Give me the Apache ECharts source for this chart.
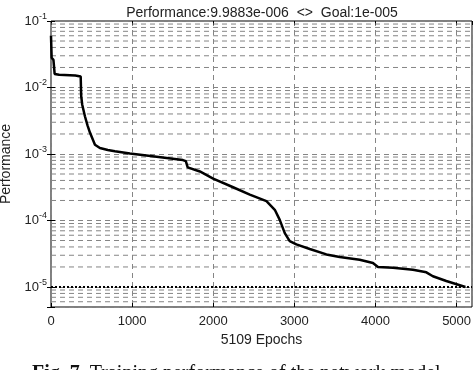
<!DOCTYPE html>
<html>
<head>
<meta charset="utf-8">
<script src="https://cdn.jsdelivr.net/npm/echarts@6/dist/echarts.min.js"></script>
<style>
html, body { margin: 0; padding: 0; background: #fff; }
#chart { width: 474px; height: 370px; }
</style>
</head>
<body>
<div id="chart"></div>
<script>
// training record
const epochs = [0, 8, 30, 40, 45, 100, 300, 366, 372, 385, 419, 450, 480, 542, 603, 700, 788, 973,
  1302, 1626, 1662, 1685, 1835, 1999, 2245, 2451, 2656, 2759, 2820, 2882, 2943, 3025, 3190,
  3395, 3559, 3805, 3969, 4031, 4216, 4462, 4627, 4708, 4873, 5109];
const perf = [0.06, 0.028, 0.026, 0.0245, 0.016, 0.0155, 0.0152, 0.0146, 0.0075, 0.0055, 0.00366, 0.0027,
  0.0021, 0.00138, 0.00123, 0.00115, 0.0011, 0.00102, 0.00091, 0.00081, 0.00078, 0.00063, 0.000546,
  0.000427, 0.000316, 0.000245, 0.000195, 0.000145, 0.000102, 0.0000646, 0.000049, 0.0000437,
  0.0000372, 0.0000309, 0.0000282, 0.0000257, 0.0000229, 0.00002, 0.0000195, 0.0000182,
  0.0000166, 0.0000145, 0.0000123, 0.0000099883];
const goal = 1e-5;
const xMin = 0, xMax = 5190;
const yMin = 5e-6, yMax = 0.1;
const decades = [-6, -5, -4, -3, -2];
const mults = [2, 3, 4, 5, 6, 7, 8, 9];

const font = 'Liberation Sans, Arial, sans-serif';
const gridGray = '#858585';
const dash = [5, 4];

// minor log grid lines (2..9 x 10^k), each drawn as a flat line across the plot
let minorSeries = [];
decades.forEach(function (d) {
  mults.forEach(function (m) {
    const v = m * Math.pow(10, d);
    if (v > yMin * 1.01 && v < yMax) {
      minorSeries.push({
        type: 'line',
        data: [[xMin, v], [xMax, v]],
        showSymbol: false,
        silent: true,
        lineStyle: { color: gridGray, type: dash, width: 1 },
        z: 1
      });
    }
  });
});

function expLabel(value) {
  const e = Math.log10(value);
  if (Math.abs(e - Math.round(e)) > 1e-6) return '';
  return '{b|10}{s|' + Math.round(e) + '}';
}

let chartDom = document.getElementById('chart');
let myChart = echarts.init(chartDom);
let option;

option = {
  backgroundColor: '#fff',
  animation: false,
  title: {
    text: 'Performance:9.9883e-006  <>  Goal:1e-005',
    left: 257,
    top: 1,
    textAlign: 'center',
    textStyle: { fontFamily: font, fontSize: 14, fontWeight: 'normal', color: '#222' }
  },
  grid: {
    left: 51, right: 2, top: 21, bottom: 63,
    containLabel: false, outerBoundsMode: 'none',
    show: true, borderColor: '#000', borderWidth: 1, backgroundColor: 'transparent'
  },
  xAxis: [
    {
      type: 'value', min: xMin, max: xMax, interval: 1000,
      name: '5109 Epochs', nameLocation: 'middle', nameGap: 24,
      nameTextStyle: { fontFamily: font, fontSize: 14, color: '#222' },
      axisLine: { show: false },
      axisTick: { inside: true, length: 4, lineStyle: { color: '#000' } },
      axisLabel: {
        showMaxLabel: false, margin: 8, fontFamily: font, fontSize: 13, color: '#222',
        formatter: function (v) { return String(v); }
      },
      splitLine: { show: true, lineStyle: { color: gridGray, type: dash, width: 1 } }
    },
    {
      type: 'value', position: 'top', min: xMin, max: xMax, interval: 1000,
      axisLine: { show: false },
      axisTick: { inside: true, length: 4, lineStyle: { color: '#000' } },
      axisLabel: { show: false },
      splitLine: { show: false }
    }
  ],
  yAxis: [
    {
      type: 'log', logBase: 10, min: yMin, max: yMax,
      name: 'Performance', nameLocation: 'middle', nameGap: 35,
      nameTextStyle: { fontFamily: font, fontSize: 14, color: '#222' },
      axisLine: { show: false },
      axisTick: { inside: true, length: 4, lineStyle: { color: '#000' } },
      axisLabel: {
        margin: 4, formatter: expLabel,
        rich: {
          b: { fontFamily: font, fontSize: 13, color: '#222' },
          s: { fontFamily: font, fontSize: 9, color: '#222', verticalAlign: 'bottom', padding: [0, 0, 9, 0] }
        }
      },
      splitLine: { show: true, lineStyle: { color: gridGray, type: dash, width: 1 } }
    },
    {
      type: 'log', logBase: 10, position: 'right', min: yMin, max: yMax,
      axisLine: { show: false },
      axisTick: { inside: true, length: 4, lineStyle: { color: '#000' } },
      axisLabel: { show: false },
      splitLine: { show: false }
    }
  ],
  series: minorSeries.concat([
    {
      type: 'line',
      data: [[xMin, goal], [xMax, goal]],
      showSymbol: false,
      silent: true,
      lineStyle: { color: '#000', width: 2, type: [2, 2] },
      z: 3
    },
    {
      type: 'line',
      data: epochs.map(function (e, i) { return [e, perf[i]]; }),
      showSymbol: false,
      silent: true,
      lineStyle: { color: '#000', width: 2.5 },
      z: 4
    }
  ]),
  graphic: [
    {
      type: 'text',
      left: 32,
      top: 364,
      style: {
        text: '{b|Fig. 7.} Training performance of the network model',
        fontFamily: 'Liberation Serif, Times New Roman, serif',
        fontSize: 20,
        fill: '#111',
        rich: {
          b: { fontFamily: 'Liberation Serif, Times New Roman, serif', fontSize: 20, fontWeight: 'bold', fill: '#111' }
        }
      }
    }
  ]
};

option && myChart.setOption(option);
</script>
</body>
</html>
